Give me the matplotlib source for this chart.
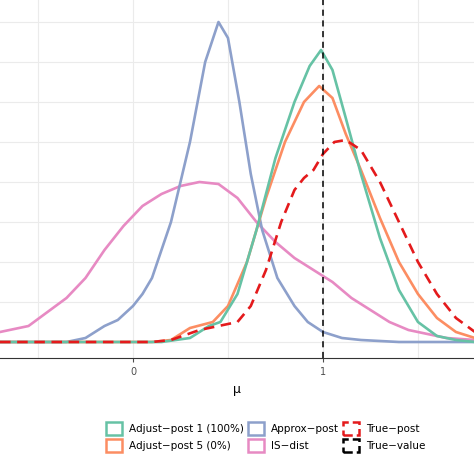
import matplotlib
matplotlib.use("Agg")
import matplotlib.pyplot as plt
from matplotlib.patches import Patch

approx_x = [-0.7,-0.35,-0.25,-0.15,-0.08,0,0.05,0.1,0.2,0.3,0.38,0.45,0.5,0.56,0.62,0.68,0.76,0.85,0.92,1.0,1.1,1.2,1.4,1.8]
approx_y = [0,0,0.1,0.4,0.55,0.9,1.2,1.6,3.0,5.0,7.0,8.0,7.6,6.0,4.2,2.8,1.6,0.9,0.5,0.25,0.1,0.05,0,0]
adj1_x = [-0.7,0.15,0.3,0.4,0.46,0.55,0.65,0.75,0.85,0.93,0.99,1.05,1.12,1.2,1.3,1.4,1.5,1.6,1.7,1.8]
adj1_y = [0,0,0.1,0.4,0.5,1.2,2.8,4.6,6.0,6.9,7.3,6.8,5.6,4.2,2.6,1.3,0.5,0.15,0.05,0]
adj5_x = [-0.7,0.1,0.2,0.3,0.42,0.5,0.6,0.7,0.8,0.9,0.98,1.05,1.12,1.2,1.3,1.4,1.5,1.6,1.7,1.8]
adj5_y = [0,0,0.05,0.35,0.5,0.9,2.0,3.6,5.0,6.0,6.4,6.1,5.2,4.3,3.1,2.0,1.2,0.6,0.25,0.1]
true_x = [-0.7,0.1,0.2,0.35,0.45,0.55,0.62,0.7,0.78,0.85,0.9,0.95,1.0,1.06,1.12,1.2,1.3,1.4,1.5,1.6,1.7,1.8]
true_y = [0,0,0.05,0.3,0.4,0.5,0.9,1.8,3.0,3.8,4.1,4.3,4.7,5.0,5.05,4.8,4.0,3.0,2.0,1.2,0.6,0.25]
is_x = [-0.7,-0.55,-0.45,-0.35,-0.25,-0.15,-0.05,0.05,0.15,0.25,0.35,0.45,0.55,0.65,0.75,0.85,0.95,1.05,1.15,1.25,1.35,1.45,1.55,1.65,1.8]
is_y = [0.25,0.4,0.75,1.1,1.6,2.3,2.9,3.4,3.7,3.9,4.0,3.95,3.6,3.0,2.5,2.1,1.8,1.5,1.1,0.8,0.5,0.3,0.2,0.1,0.05]
true_value = 1.0

C1, C5, CA, CI, CT = "#66C2A5", "#FC8D62", "#8DA0CB", "#E78AC3", "#E41A1C"

fig = plt.figure(figsize=(4.74, 4.74), dpi=100)
ax = fig.add_axes([0, 1 - 358/474, 1, 358/474])
lw = 1.9
ax.plot(is_x, is_y, color=CI, lw=lw)
ax.plot(approx_x, approx_y, color=CA, lw=lw)
ax.plot(adj5_x, adj5_y, color=C5, lw=lw)
ax.plot(adj1_x, adj1_y, color=C1, lw=lw)
ax.plot(true_x, true_y, color=CT, lw=lw, ls=(0, (4, 2.5)))
ax.axvline(true_value, color="black", lw=1.1, ls=(0, (4, 3)))
ax.set_xlim(-0.7, 1.795)
ax.set_ylim(-0.4, 8.55)
ax.set_xticks([0, 1])
ax.set_xticks([-0.5, 0.5, 1.5], minor=True)
ax.set_yticks([0, 1, 2, 3, 4, 5, 6, 7, 8])
ax.set_yticklabels([])
ax.tick_params(axis="y", length=0)
ax.tick_params(axis="x", colors="#4d4d4d", labelsize=7, length=3, which="major")
ax.tick_params(axis="x", which="minor", length=0)
ax.grid(True, which="both", color="#ebebeb", lw=0.8)
ax.set_axisbelow(True)
for s in ["top", "left", "right"]:
    ax.spines[s].set_visible(False)
ax.spines["bottom"].set_color("#333333")
ax.set_xlabel("μ", fontsize=9)

handles = [Patch(facecolor="none", edgecolor=C1, lw=1.8, label="Adjust−post 1 (100%)"),
           Patch(facecolor="none", edgecolor=C5, lw=1.8, label="Adjust−post 5 (0%)"),
           Patch(facecolor="none", edgecolor=CA, lw=1.8, label="Approx−post"),
           Patch(facecolor="none", edgecolor=CI, lw=1.8, label="IS−dist"),
           Patch(facecolor="none", edgecolor=CT, lw=1.8, ls="--", label="True−post"),
           Patch(facecolor="none", edgecolor="black", lw=1.8, ls="--", label="True−value")]
fig.legend(handles=handles, ncol=3, loc="center", bbox_to_anchor=(0.56, 0.078),
           frameon=False, fontsize=7.5, handlelength=1.6, handleheight=1.6,
           columnspacing=0.4, handletextpad=0.6, labelspacing=0.3)
fig.savefig("out.png", dpi=100)
